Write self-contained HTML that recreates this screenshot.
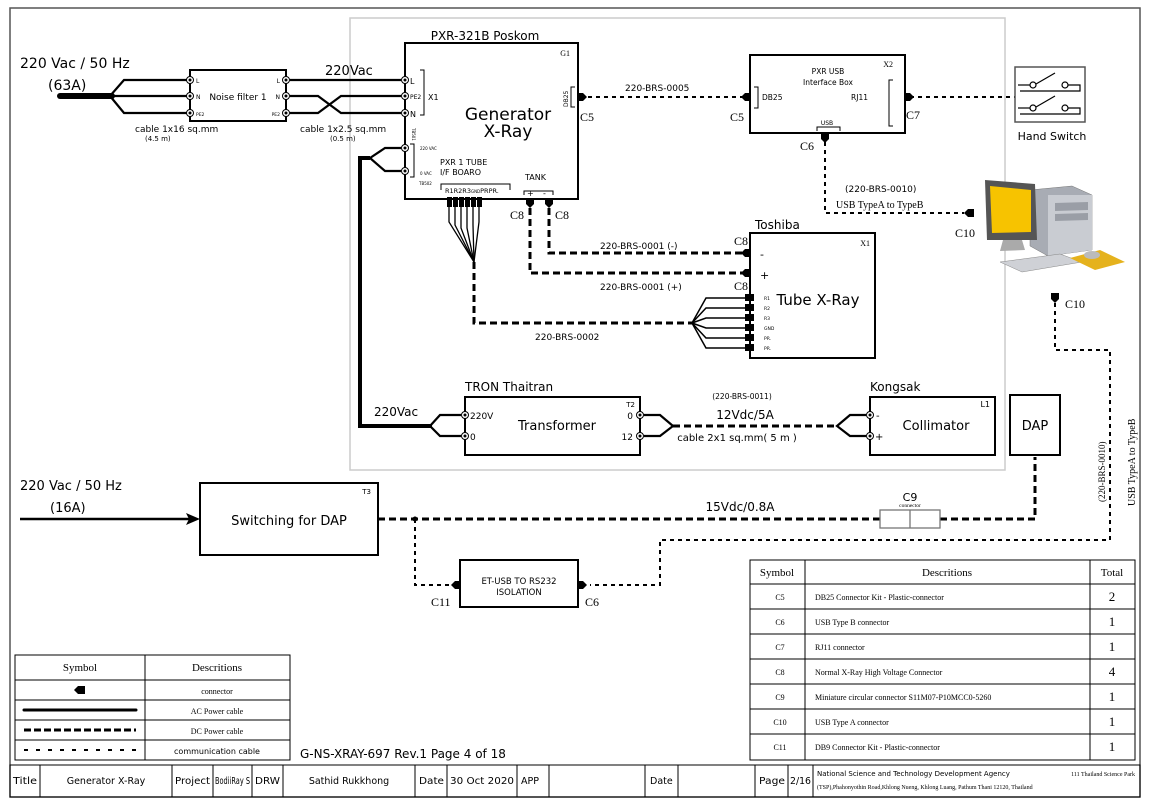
<!DOCTYPE html>
<html><head><meta charset="utf-8"><style>
html,body{margin:0;padding:0;background:#fff}
svg{display:block;font-family:"DejaVu Sans","Liberation Sans",sans-serif}
.s{font-family:"Liberation Serif",serif}
</style></head><body>
<svg width="1150" height="805" viewBox="0 0 1150 805" xmlns="http://www.w3.org/2000/svg">
<defs>
<g id="cr"><path d="M-5,-4 L1,-4 L5,0 L1,4 L-5,4 Z" fill="#000"/></g>
<g id="cl"><path d="M5,-4 L-1,-4 L-5,0 L-1,4 L5,4 Z" fill="#000"/></g>
<g id="cd"><path d="M-4,-5 L4,-5 L4,1 L0,5 L-4,1 Z" fill="#000"/></g>
<g id="t"><circle r="3.5" fill="#fff" stroke="#000" stroke-width="1"/><circle r="1.5" fill="#000"/></g>
</defs>
<rect x="0" y="0" width="1150" height="805" fill="#fff"/>
<rect x="10" y="8" width="1130" height="789" fill="none" stroke="#555" stroke-width="1.5"/>
<rect x="350" y="18" width="655" height="452" fill="none" stroke="#ccc" stroke-width="1.5"/>

<text x="20" y="68" font-size="14">220 Vac / 50 Hz</text>
<text x="48" y="90" font-size="14">(63A)</text>
<line x1="60" y1="96" x2="112" y2="96" stroke="#000" stroke-width="6" stroke-linecap="round"/>
<g fill="none" stroke="#000" stroke-width="2.2">
<path d="M110,96 L124,80 L187,80"/><path d="M110,96 L187,96"/><path d="M110,96 L124,113 L187,113"/>
</g>
<text x="135" y="132" font-size="9">cable 1x16 sq.mm</text>
<text x="145" y="141" font-size="7">(4.5 m)</text>
<rect x="190" y="70" width="96" height="51" fill="#fff" stroke="#000" stroke-width="2"/>
<text x="238" y="100" font-size="9" text-anchor="middle">Noise filter 1</text>
<use href="#t" x="190" y="80"/><use href="#t" x="190" y="96"/><use href="#t" x="190" y="113"/>
<use href="#t" x="286" y="80"/><use href="#t" x="286" y="96"/><use href="#t" x="286" y="113"/>
<text x="196" y="83" font-size="6">L</text><text x="196" y="99" font-size="6">N</text><text x="196" y="116" font-size="4.5">PE2</text>
<text x="280" y="83" font-size="6" text-anchor="end">L</text><text x="280" y="99" font-size="6" text-anchor="end">N</text><text x="280" y="116" font-size="4.5" text-anchor="end">PE2</text>
<g fill="none" stroke="#000" stroke-width="2.2">
<path d="M290,80 L401,80"/><path d="M290,96 L318,96 L341,113 L401,113"/><path d="M290,113 L318,113 L341,96 L401,96"/>
</g>
<text x="325" y="75" font-size="13">220Vac</text>
<text x="300" y="132" font-size="9">cable 1x2.5 sq.mm</text>
<text x="330" y="141" font-size="7">(0.5 m)</text>

<text x="485" y="40" font-size="12" text-anchor="middle">PXR-321B Poskom</text>
<rect x="405" y="43" width="173" height="156" fill="#fff" stroke="#000" stroke-width="2"/>
<text x="570" y="56" font-size="8" class="s" text-anchor="end">G1</text>
<use href="#t" x="405" y="80"/><use href="#t" x="405" y="96"/><use href="#t" x="405" y="113"/>
<text x="410" y="84" font-size="8">L</text><text x="410" y="99" font-size="6">PE2</text><text x="410" y="117" font-size="8">N</text>
<path d="M420,70 L424,70 L424,115 L420,115" fill="none" stroke="#000"/>
<text x="428" y="100" font-size="8">X1</text>
<text x="508" y="120" font-size="17" text-anchor="middle">Generator</text>
<text x="508" y="137" font-size="17" text-anchor="middle">X-Ray</text>
<text font-size="6" transform="translate(568,107) rotate(-90)">DB25</text>
<path d="M575,87 L571,87 L571,107 L575,107" fill="none" stroke="#000"/>
<use href="#cr" x="582" y="97"/>
<text x="580" y="121" font-size="12" class="s">C5</text>
<text font-size="4" transform="translate(412,128) rotate(90)">TB501</text>
<use href="#t" x="405" y="148"/><use href="#t" x="405" y="171"/>
<path d="M410,144 L414,144 L414,177 L410,177" fill="none" stroke="#000"/>
<text x="420" y="150" font-size="4">220 VAC</text>
<text x="420" y="175" font-size="4">0 VAC</text>
<text x="440" y="165" font-size="8">PXR 1 TUBE</text>
<text x="440" y="175" font-size="8">I/F BOARO</text>
<text x="419" y="185" font-size="4">TB502</text>
<path d="M441,190 L441,184 L510,184 L510,190" fill="none" stroke="#000"/>
<text x="445" y="193" font-size="6.5">R1R2R3<tspan font-size="4">GND</tspan>PRPR.</text>
<text x="525" y="180" font-size="8">TANK</text>
<path d="M524,195 L524,191 L553,191 L553,195" fill="none" stroke="#000"/>
<text x="527" y="196" font-size="8">+</text><text x="543" y="196" font-size="8">-</text>
<g fill="#000"><rect x="447" y="197" width="5" height="10"/><rect x="453" y="197" width="5" height="10"/><rect x="459" y="197" width="5" height="10"/><rect x="465" y="197" width="5" height="10"/><rect x="471" y="197" width="5" height="10"/><rect x="477" y="197" width="5" height="10"/></g>
<g fill="none" stroke="#000" stroke-width="1.3">
<path d="M449,207 L449,222 L474,262"/><path d="M455,207 L455,225 L474,262"/><path d="M461,207 L461,228 L474,262"/><path d="M467,207 L467,228 L474,262"/><path d="M473,207 L473,225 L474,262"/><path d="M479,207 L479,222 L474,262"/>
</g>
<use href="#cd" x="530" y="203"/><use href="#cd" x="549" y="203"/>
<text x="510" y="219" font-size="12" class="s">C8</text>
<text x="555" y="219" font-size="12" class="s">C8</text>
<g fill="none" stroke="#000" stroke-width="3" stroke-dasharray="7,4">
<path d="M474,262 L474,323 L692,323"/>
<path d="M549,208 L549,253 L744,253"/>
<path d="M530,208 L530,273 L744,273"/>
</g>
<g fill="none" stroke="#000" stroke-width="1.5">
<path d="M692,323 L706,298 L745,298"/><path d="M692,323 L706,308 L745,308"/><path d="M692,323 L706,318 L745,318"/><path d="M692,323 L706,328 L745,328"/><path d="M692,323 L706,338 L745,338"/><path d="M692,323 L706,348 L745,348"/>
</g>
<text x="600" y="249" font-size="9">220-BRS-0001 (-)</text>
<text x="600" y="290" font-size="9">220-BRS-0001 (+)</text>
<text x="535" y="340" font-size="9">220-BRS-0002</text>

<text x="755" y="229" font-size="12">Toshiba</text>
<rect x="750" y="233" width="125" height="125" fill="#fff" stroke="#000" stroke-width="2"/>
<text x="870" y="246" font-size="8" class="s" text-anchor="end">X1</text>
<text x="734" y="245" font-size="12" class="s">C8</text>
<text x="734" y="290" font-size="12" class="s">C8</text>
<use href="#cl" x="746" y="253"/><use href="#cl" x="746" y="273"/>
<text x="760" y="258" font-size="11">-</text><text x="760" y="279" font-size="11">+</text>
<g fill="#000"><rect x="745" y="294" width="9" height="7"/><rect x="745" y="304" width="9" height="7"/><rect x="745" y="314" width="9" height="7"/><rect x="745" y="324" width="9" height="7"/><rect x="745" y="334" width="9" height="7"/><rect x="745" y="344" width="9" height="7"/></g>
<g font-size="4.5"><text x="764" y="300">R1</text><text x="764" y="310">R2</text><text x="764" y="320">R3</text><text x="764" y="330">GND</text><text x="764" y="340">PR.</text><text x="764" y="350">PR.</text></g>
<text x="818" y="305" font-size="15" text-anchor="middle">Tube X-Ray</text>

<g fill="none" stroke="#000" stroke-width="2" stroke-dasharray="4,4">
<path d="M588,97 L744,97"/>
<path d="M910,97 L1015,97"/>
<path d="M825,142 L825,213 L964,213"/>
</g>
<text x="625" y="91" font-size="9">220-BRS-0005</text>
<text x="730" y="121" font-size="12" class="s">C5</text>
<rect x="750" y="55" width="155" height="78" fill="#fff" stroke="#000" stroke-width="2"/>
<text x="893" y="67" font-size="8" class="s" text-anchor="end">X2</text>
<text x="828" y="74" font-size="7.5" text-anchor="middle">PXR USB</text>
<text x="828" y="85" font-size="7.5" text-anchor="middle">Interface Box</text>
<use href="#cl" x="746" y="97"/>
<path d="M754,87 L758,87 L758,108 L754,108" fill="none" stroke="#000"/>
<text x="762" y="100" font-size="7.5">DB25</text>
<text x="868" y="100" font-size="7.5" text-anchor="end">RJ11</text>
<path d="M893,80 L889,80 L889,126 L893,126" fill="none" stroke="#000"/>
<use href="#cr" x="909" y="97"/>
<text x="906" y="119" font-size="12" class="s">C7</text>
<text x="827" y="125" font-size="6" text-anchor="middle">USB</text>
<path d="M817,131 L817,127 L840,127 L840,131" fill="none" stroke="#000"/>
<use href="#cd" x="825" y="138"/>
<text x="800" y="150" font-size="12" class="s">C6</text>
<text x="845" y="192" font-size="9">(220-BRS-0010)</text>
<text x="836" y="208" font-size="10" class="s">USB TypeA to TypeB</text>
<use href="#cl" x="969" y="213"/>
<text x="955" y="237" font-size="12" class="s">C10</text>

<rect x="1015" y="67" width="70" height="55" fill="#fff" stroke="#555" stroke-width="1.5"/>
<g fill="none" stroke="#000" stroke-width="1.2">
<path d="M1018,85 L1030,85"/><circle cx="1033" cy="85" r="3" fill="#fff"/><path d="M1036,84 L1055,73"/><circle cx="1065" cy="85" r="3" fill="#fff"/><path d="M1068,85 L1080,85 L1080,91 L1020,91"/>
<path d="M1018,108 L1030,108"/><circle cx="1033" cy="108" r="3" fill="#fff"/><path d="M1036,107 L1055,96"/><circle cx="1065" cy="108" r="3" fill="#fff"/><path d="M1068,108 L1080,108 L1080,114 L1020,114"/>
</g>
<text x="1052" y="140" font-size="11" text-anchor="middle">Hand Switch</text>

<!-- computer -->
<path d="M1030,190 L1072,186 L1092,195 L1092,250 L1048,256 L1030,246 Z" fill="#a8acb4" stroke="#777" stroke-width="0.5"/>
<path d="M1048,195 L1092,195 L1092,250 L1048,256 Z" fill="#c9ccd2"/>
<path d="M1055,203 L1088,202 L1088,210 L1055,211 Z" fill="#9a9ea6"/>
<path d="M1055,214 L1088,213 L1088,220 L1055,221 Z" fill="#9a9ea6"/>
<path d="M985,180 L1035,184 L1037,240 L987,240 Z" fill="#555"/>
<path d="M990,186 L1031,190 L1031,232 L992,233 Z" fill="#f7c300"/>
<path d="M1003,240 L1022,240 L1025,250 L1000,251 Z" fill="#aaa"/>
<path d="M1000,262 L1060,254 L1082,262 L1022,272 Z" fill="#cfd1d6" stroke="#888" stroke-width="0.5"/>
<path d="M1070,258 L1100,250 L1125,262 L1095,270 Z" fill="#e5b21d"/>
<ellipse cx="1092" cy="255" rx="8" ry="4" fill="#bbb"/>
<use href="#cd" x="1055" y="298"/>
<text x="1065" y="308" font-size="12" class="s">C10</text>
<g fill="none" stroke="#000" stroke-width="2" stroke-dasharray="4,4">
<path d="M1055,303 L1055,350 L1110,350 L1110,540 L660,540 L660,585 L590,585"/>
</g>
<text font-size="9" class="s" transform="translate(1105,502) rotate(-90)">(220-BRS-0010)</text>
<text font-size="10" class="s" transform="translate(1135,506) rotate(-90)">USB TypeA to TypeB</text>

<g fill="none" stroke="#000" stroke-width="2.2">
<path d="M401,148 L385,148 L370,158"/><path d="M401,171 L385,171 L370,158"/>
<path d="M430,426 L440,415 L461,415"/><path d="M430,426 L440,436 L461,436"/>
</g>
<path d="M370,158 L360,158 L360,426 L432,426" fill="none" stroke="#000" stroke-width="4"/>
<text x="374" y="416" font-size="12">220Vac</text>

<text x="465" y="391" font-size="12">TRON Thaitran</text>
<rect x="465" y="397" width="175" height="58" fill="#fff" stroke="#000" stroke-width="2"/>
<text x="635" y="407" font-size="7" text-anchor="end">T2</text>
<use href="#t" x="465" y="415"/><use href="#t" x="465" y="436"/>
<text x="470" y="419" font-size="9">220V</text><text x="470" y="440" font-size="9">0</text>
<use href="#t" x="640" y="415"/><use href="#t" x="640" y="436"/>
<text x="633" y="419" font-size="9" text-anchor="end">0</text><text x="633" y="440" font-size="9" text-anchor="end">12</text>
<text x="557" y="430" font-size="13" text-anchor="middle">Transformer</text>
<g fill="none" stroke="#000" stroke-width="2.2">
<path d="M644,415 L660,415 L673,426 L660,436 L644,436"/>
<path d="M866,415 L850,415 L837,426 L850,436 L866,436"/>
</g>
<path d="M673,426 L837,426" stroke="#000" stroke-width="3" stroke-dasharray="7,4"/>
<text x="742" y="399" font-size="7.5" text-anchor="middle">(220-BRS-0011)</text>
<text x="745" y="419" font-size="12" text-anchor="middle">12Vdc/5A</text>
<text x="737" y="441" font-size="10" text-anchor="middle">cable 2x1 sq.mm( 5 m )</text>
<text x="870" y="391" font-size="12">Kongsak</text>
<rect x="870" y="397" width="125" height="58" fill="#fff" stroke="#000" stroke-width="2"/>
<text x="990" y="407" font-size="8" text-anchor="end">L1</text>
<use href="#t" x="870" y="415"/><use href="#t" x="870" y="436"/>
<text x="876" y="419" font-size="10">-</text><text x="875" y="440" font-size="10">+</text>
<text x="936" y="430" font-size="13" text-anchor="middle">Collimator</text>
<rect x="1010" y="395" width="50" height="60" fill="#fff" stroke="#000" stroke-width="2"/>
<text x="1035" y="430" font-size="13" text-anchor="middle">DAP</text>

<text x="20" y="490" font-size="13">220 Vac / 50 Hz</text>
<text x="50" y="512" font-size="13">(16A)</text>
<line x1="20" y1="519" x2="190" y2="519" stroke="#000" stroke-width="2.5"/>
<path d="M200,519 L186,513 L189,519 L186,525 Z" fill="#000"/>
<rect x="200" y="483" width="178" height="72" fill="#fff" stroke="#000" stroke-width="2"/>
<text x="371" y="494" font-size="7" text-anchor="end">T3</text>
<text x="289" y="525" font-size="13" text-anchor="middle">Switching for DAP</text>
<g fill="none" stroke="#000" stroke-width="3" stroke-dasharray="7,4">
<path d="M378,519 L880,519"/><path d="M940,519 L1035,519 L1035,457"/>
</g>
<circle cx="415" cy="519" r="2.5" fill="#000"/>
<text x="740" y="511" font-size="12" text-anchor="middle">15Vdc/0.8A</text>
<rect x="880" y="510" width="60" height="18" fill="#fff" stroke="#777" stroke-width="1.3"/>
<line x1="910" y1="510" x2="910" y2="528" stroke="#777" stroke-width="1.3"/>
<text x="910" y="501" font-size="11" text-anchor="middle">C9</text>
<text x="910" y="507" font-size="5.5" class="s" text-anchor="middle">connector</text>
<path d="M415,519 L415,585 L452,585" fill="none" stroke="#000" stroke-width="2" stroke-dasharray="4,4"/>
<rect x="460" y="560" width="118" height="47" fill="#fff" stroke="#000" stroke-width="2"/>
<use href="#cl" x="456" y="585"/><use href="#cr" x="582" y="585"/>
<text x="519" y="584" font-size="8.5" text-anchor="middle">ET-USB TO RS232</text>
<text x="519" y="595" font-size="8.5" text-anchor="middle">ISOLATION</text>
<text x="431" y="606" font-size="12" class="s">C11</text>
<text x="585" y="606" font-size="12" class="s">C6</text>

<g fill="none" stroke="#000" stroke-width="1">
<rect x="750" y="560" width="385" height="200"/>
<line x1="805" y1="560" x2="805" y2="760"/><line x1="1090" y1="560" x2="1090" y2="760"/>
<line x1="750" y1="584" x2="1135" y2="584"/><line x1="750" y1="609" x2="1135" y2="609"/><line x1="750" y1="634" x2="1135" y2="634"/><line x1="750" y1="659" x2="1135" y2="659"/><line x1="750" y1="684" x2="1135" y2="684"/><line x1="750" y1="709" x2="1135" y2="709"/><line x1="750" y1="734" x2="1135" y2="734"/>
</g>
<g class="s">
<text x="777" y="576" font-size="11" text-anchor="middle">Symbol</text>
<text x="947" y="576" font-size="11" text-anchor="middle">Descritions</text>
<text x="1112" y="576" font-size="11" text-anchor="middle">Total</text>
<g font-size="8"><text x="780" y="600" text-anchor="middle">C5</text><text x="780" y="625" text-anchor="middle">C6</text><text x="780" y="650" text-anchor="middle">C7</text><text x="780" y="675" text-anchor="middle">C8</text><text x="780" y="700" text-anchor="middle">C9</text><text x="780" y="725" text-anchor="middle">C10</text><text x="780" y="750" text-anchor="middle">C11</text>
<text x="815" y="600">DB25 Connector Kit - Plastic-connector</text><text x="815" y="625">USB Type B connector</text><text x="815" y="650">RJ11 connector</text><text x="815" y="675">Normal X-Ray High Voltage Connector</text><text x="815" y="700">Miniature circular connector S11M07-P10MCC0-5260</text><text x="815" y="725">USB Type A connector</text><text x="815" y="750">DB9 Connector Kit - Plastic-connector</text></g>
<g font-size="13" text-anchor="middle"><text x="1112" y="601">2</text><text x="1112" y="626">1</text><text x="1112" y="651">1</text><text x="1112" y="676">4</text><text x="1112" y="701">1</text><text x="1112" y="726">1</text><text x="1112" y="751">1</text></g>
</g>

<g fill="none" stroke="#000" stroke-width="1">
<rect x="15" y="655" width="275" height="105"/>
<line x1="145" y1="655" x2="145" y2="760"/>
<line x1="15" y1="680" x2="290" y2="680"/><line x1="15" y1="700" x2="290" y2="700"/><line x1="15" y1="720" x2="290" y2="720"/><line x1="15" y1="740" x2="290" y2="740"/>
</g>
<text x="80" y="671" font-size="11" class="s" text-anchor="middle">Symbol</text>
<text x="217" y="671" font-size="11" class="s" text-anchor="middle">Descritions</text>
<path d="M85,686 L78,686 L74,690 L78,694 L85,694 Z" fill="#000"/>
<text x="217" y="694" font-size="8" class="s" text-anchor="middle">connector</text>
<line x1="24" y1="710" x2="136" y2="710" stroke="#000" stroke-width="3" stroke-linecap="round"/>
<text x="217" y="714" font-size="8" class="s" text-anchor="middle">AC Power cable</text>
<line x1="24" y1="730" x2="136" y2="730" stroke="#000" stroke-width="3" stroke-dasharray="7,3"/>
<text x="217" y="734" font-size="8" class="s" text-anchor="middle">DC Power cable</text>
<line x1="24" y1="750" x2="136" y2="750" stroke="#000" stroke-width="2" stroke-dasharray="4,8"/>
<text x="217" y="754" font-size="8" text-anchor="middle">communication cable</text>
<text x="300" y="758" font-size="12">G-NS-XRAY-697 Rev.1 Page 4 of 18</text>

<g fill="none" stroke="#000" stroke-width="1">
<rect x="10" y="765" width="1130" height="32"/>
<line x1="40" y1="765" x2="40" y2="797"/><line x1="172" y1="765" x2="172" y2="797"/><line x1="213" y1="765" x2="213" y2="797"/><line x1="252" y1="765" x2="252" y2="797"/><line x1="283" y1="765" x2="283" y2="797"/><line x1="415" y1="765" x2="415" y2="797"/><line x1="447" y1="765" x2="447" y2="797"/><line x1="517" y1="765" x2="517" y2="797"/><line x1="549" y1="765" x2="549" y2="797"/><line x1="645" y1="765" x2="645" y2="797"/><line x1="678" y1="765" x2="678" y2="797"/><line x1="755" y1="765" x2="755" y2="797"/><line x1="788" y1="765" x2="788" y2="797"/><line x1="813" y1="765" x2="813" y2="797"/>
</g>
<g font-size="9.5">
<text x="13" y="784" textLength="24" lengthAdjust="spacingAndGlyphs">Title</text><text x="106" y="784" text-anchor="middle">Generator X-Ray</text>
<text x="175" y="784" textLength="35" lengthAdjust="spacingAndGlyphs">Project</text><text x="215" y="784" textLength="35" lengthAdjust="spacingAndGlyphs">BodiiRay S</text>
<text x="255" y="784" textLength="25" lengthAdjust="spacingAndGlyphs">DRW</text><text x="349" y="784" text-anchor="middle">Sathid Rukkhong</text>
<text x="419" y="784" textLength="25" lengthAdjust="spacingAndGlyphs">Date</text><text x="450" y="784" textLength="64" lengthAdjust="spacingAndGlyphs">30 Oct 2020</text>
<text x="521" y="784">APP</text><text x="650" y="784">Date</text>
<text x="759" y="784" textLength="26" lengthAdjust="spacingAndGlyphs">Page</text><text x="790" y="784" textLength="21" lengthAdjust="spacingAndGlyphs">2/16</text>
</g>
<text x="817" y="776" font-size="7">National Science and Technology Development Agency</text>
<text x="1135" y="776" font-size="6" class="s" text-anchor="end">111 Thailand Science Park</text>
<text x="817" y="789" font-size="6" class="s">(TSP),Phahonyothin Road,Khlong Nueng, Khlong Luang, Pathum Thani 12120, Thailand</text>
</svg>
</body></html>
